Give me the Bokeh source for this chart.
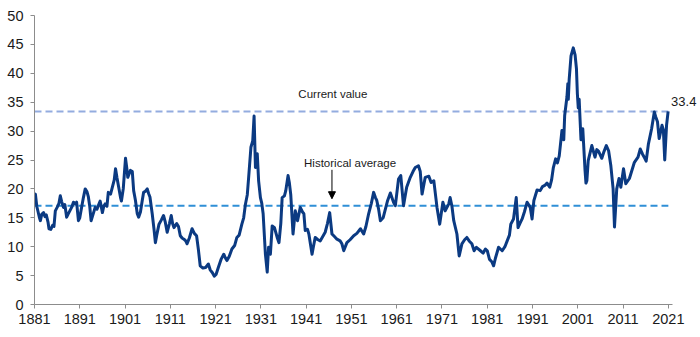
from bokeh.plotting import figure
from bokeh.models import Range1d, FixedTicker, Label, Arrow, NormalHead
from bokeh.embed import file_html
from bokeh.resources import INLINE

# ---- data ----
years = [
    1881.0, 1881.2, 1881.5, 1881.8, 1882.1, 1882.3, 1882.6, 1883.0, 1883.3, 1883.6,
    1884.0, 1884.2, 1884.6, 1885.0, 1885.3, 1885.6, 1886.0, 1886.4, 1886.7, 1887.0,
    1887.4, 1887.7, 1888.1, 1888.4, 1888.8, 1889.2, 1889.6, 1890.0, 1890.3, 1890.7,
    1891.0, 1891.4, 1891.8, 1892.2, 1892.6, 1892.9, 1893.2, 1893.5, 1893.9, 1894.4,
    1894.8, 1895.1, 1895.5, 1896.0, 1896.3, 1896.6, 1897.0, 1897.3, 1897.8, 1898.2,
    1898.6, 1898.9, 1899.2, 1899.6, 1900.0, 1900.2, 1900.6, 1901.1, 1901.4, 1901.6,
    1902.0, 1902.2, 1902.6, 1902.9, 1903.3, 1903.7, 1904.0, 1904.4, 1904.8, 1905.1,
    1905.5, 1905.9, 1906.2, 1906.5, 1907.0, 1907.4, 1907.7, 1908.0, 1908.5, 1909.0,
    1909.5, 1909.9, 1910.3, 1910.8, 1911.2, 1911.5, 1911.8, 1912.4, 1912.8, 1913.2,
    1913.6, 1914.0, 1914.4, 1914.7, 1915.2, 1915.8, 1916.3, 1916.8, 1917.2, 1917.6,
    1918.2, 1918.8, 1919.4, 1919.8, 1920.3, 1920.7, 1921.1, 1921.6, 1922.2, 1922.8,
    1923.2, 1923.5, 1924.0, 1924.6, 1925.2, 1925.7, 1926.2, 1926.8, 1927.2, 1927.6,
    1928.0, 1928.3, 1928.8, 1929.2, 1929.5, 1929.8, 1930.2, 1930.5, 1930.9, 1931.2,
    1931.5, 1932.0, 1932.4, 1932.7, 1933.1, 1933.5, 1934.0, 1934.6, 1935.0, 1935.4,
    1935.7, 1936.2, 1936.5, 1937.0, 1937.3, 1937.6, 1938.1, 1938.6, 1939.1, 1939.7,
    1940.2, 1940.5, 1940.8, 1941.3, 1941.6, 1942.3, 1942.6, 1943.0, 1943.6, 1944.1,
    1944.7, 1945.2, 1945.7, 1946.2, 1946.7, 1947.2, 1947.8, 1948.5, 1948.9, 1949.3,
    1950.0, 1950.7, 1951.5, 1952.2, 1953.0, 1953.7, 1954.2, 1954.8, 1955.4, 1955.9,
    1956.3, 1956.6, 1957.0, 1957.4, 1958.0, 1958.5, 1959.0, 1959.6, 1960.3, 1960.7,
    1961.4, 1961.9, 1962.5, 1963.2, 1964.0, 1964.6, 1965.1, 1965.8, 1966.2, 1966.6,
    1967.3, 1968.1, 1968.6, 1969.2, 1969.9, 1970.5, 1971.2, 1971.7, 1972.5, 1972.8,
    1973.2, 1973.6, 1974.3, 1974.8, 1975.4, 1976.0, 1976.5, 1977.0, 1977.6, 1978.1,
    1978.6, 1979.5, 1980.1, 1980.6, 1981.0, 1981.5, 1982.0, 1982.4, 1982.8, 1983.5,
    1984.3, 1984.9, 1985.4, 1985.9, 1986.2, 1986.8, 1987.4, 1987.8, 1988.2, 1988.7,
    1989.2, 1989.8, 1990.5, 1990.9, 1991.3, 1992.0, 1992.7, 1993.2, 1993.7, 1994.2,
    1994.8, 1995.2, 1995.6, 1996.1, 1996.5, 1996.9, 1997.5, 1997.9, 1998.1, 1998.6,
    1998.8, 1998.9, 1999.1, 1999.5, 2000.0, 2000.4, 2000.7, 2000.9, 2001.1, 2001.3,
    2001.7, 2002.1, 2002.6, 2002.8, 2003.0, 2003.3, 2004.1, 2004.8, 2005.2, 2005.6,
    2006.3, 2006.8, 2007.3, 2007.8, 2008.3, 2008.8, 2009.1, 2009.6, 2010.1, 2010.5,
    2011.1, 2011.6, 2012.4, 2013.5, 2014.3, 2014.8, 2015.3, 2015.8, 2016.1, 2016.6,
    2017.3, 2017.9, 2018.2, 2018.6, 2018.97, 2019.6, 2019.9, 2020.2, 2020.6, 2020.95,
]
cape = [
    18.5, 19.1, 17.0, 16.0, 15.0, 14.5, 15.6, 15.9, 15.2, 15.5,
    14.2, 13.1, 13.0, 13.7, 13.5, 16.2, 16.8, 17.5, 18.8, 17.8,
    16.8, 17.3, 15.1, 15.6, 16.2, 16.8, 17.7, 17.4, 17.7, 14.5,
    15.0, 16.8, 18.5, 20.0, 19.5, 18.6, 17.0, 14.5, 15.5, 16.8,
    16.5, 17.1, 17.9, 15.9, 17.0, 17.4, 17.0, 19.4, 19.1, 20.3,
    21.5, 23.5, 22.0, 20.3, 18.5, 17.9, 20.0, 25.3, 23.5, 22.0,
    22.8, 23.2, 23.0, 19.7, 18.0, 15.7, 15.1, 16.0, 18.0, 19.4,
    19.6, 20.0, 19.2, 18.6, 15.7, 13.0, 10.7, 12.0, 13.9, 14.6,
    15.4, 14.2, 12.5, 14.0, 15.4, 14.0, 13.3, 14.0, 13.5, 11.9,
    11.5, 11.3, 11.0, 10.5, 11.5, 13.1, 12.3, 11.9, 9.5, 6.7,
    6.3, 6.4, 7.0, 6.0, 5.5, 4.9, 5.2, 6.4, 7.8, 8.7,
    8.0, 7.6, 8.3, 9.6, 10.2, 11.6, 12.0, 13.9, 15.0, 17.4,
    19.0, 22.0, 27.2, 28.3, 32.6, 23.7, 26.1, 21.4, 18.5, 17.5,
    15.7, 8.7, 5.6, 9.9, 8.7, 13.6, 13.3, 11.6, 10.7, 14.0,
    18.5, 18.8, 19.7, 22.3, 21.0, 19.0, 12.2, 16.2, 14.5, 16.8,
    16.0, 15.7, 12.8, 13.0, 12.2, 8.7, 10.0, 11.6, 11.2, 11.0,
    11.8, 12.5, 14.0, 15.9, 12.2, 11.8, 11.3, 11.0, 10.5, 9.3,
    10.7, 11.2, 11.9, 12.3, 13.1, 12.2, 13.5, 15.7, 17.5, 19.4,
    18.5, 18.0, 16.5, 14.5, 15.0, 16.5, 18.0, 19.3, 17.7, 17.1,
    21.7, 22.3, 17.1, 20.3, 22.0, 23.0, 23.7, 24.0, 23.0, 19.1,
    22.0, 22.2, 21.1, 21.4, 16.8, 13.9, 17.7, 16.2, 17.4, 18.5,
    17.0, 14.5, 12.2, 8.4, 10.5, 11.2, 11.6, 11.0, 10.5, 9.3,
    9.9, 9.3, 8.9, 9.6, 9.3, 7.8, 7.4, 6.7, 8.0, 9.9,
    9.3, 10.0, 11.0, 12.0, 13.9, 14.8, 18.5, 13.3, 14.0, 14.8,
    16.0, 17.7, 16.8, 14.8, 18.0, 19.8, 19.7, 20.4, 20.6, 21.0,
    20.3, 21.5, 23.7, 25.2, 24.5, 25.7, 30.1, 28.5, 32.7, 35.9,
    38.2, 35.5, 39.0, 43.0, 44.4, 43.2, 40.8, 36.5, 34.0, 35.5,
    28.5, 30.4, 23.2, 21.0, 21.4, 24.9, 27.5, 25.5, 26.8, 26.5,
    25.3, 26.5, 27.5, 26.6, 24.0, 20.0, 13.4, 20.0, 21.8, 20.3,
    23.5, 20.9, 21.8, 24.6, 25.5, 26.9, 26.0, 25.3, 24.8, 27.8,
    30.4, 33.3, 32.5, 31.6, 28.7, 31.0, 30.2, 25.0, 31.0, 33.4,
]
current_value = 33.4
historical_average = 17.1
ref_span = [1881, 2021]
x_ticks = [1881, 1891, 1901, 1911, 1921, 1931, 1941, 1951, 1961, 1971, 1981, 1991, 2001, 2011, 2021]
y_ticks = [0, 5, 10, 15, 20, 25, 30, 35, 40, 45, 50]

FONT = "Liberation Sans"

p = figure(width=700, height=337, output_backend="svg", toolbar_location=None,
           x_range=Range1d(1881, 2028.1), y_range=Range1d(0, 50),
           min_border_left=34, min_border_right=0, min_border_top=15, min_border_bottom=33)
p.outline_line_color = None
p.grid.grid_line_color = None
p.background_fill_color = "white"
p.border_fill_color = "white"

for ax in (p.xaxis[0], p.yaxis[0]):
    ax.axis_line_color = "#8c8c8c"
    ax.major_tick_line_color = "#8c8c8c"
    ax.minor_tick_line_color = None
    ax.major_tick_in = 0
    ax.major_tick_out = 4
    ax.major_label_text_font = FONT
    ax.major_label_text_font_size = "14.5px"
    ax.major_label_text_color = "#1a1a1a"

p.xaxis.ticker = FixedTicker(ticks=x_ticks)
p.xaxis.bounds = (1881, 2021.9)
p.yaxis.ticker = FixedTicker(ticks=y_ticks)
p.xaxis.major_label_standoff = 5
p.yaxis.major_label_standoff = 7

# reference lines
p.line(ref_span, [current_value, current_value], line_color="#93acdf",
       line_width=2, line_dash="7 4")
p.line(ref_span, [historical_average, historical_average], line_color="#2f8fd6",
       line_width=2, line_dash="7 4")

# series
p.line(years, cape, line_color="#0b3a82", line_width=3, line_join="round")

p.add_layout(Label(x=1946.9, y=36.4, text="Current value", text_align="center",
                   text_baseline="middle", text_font=FONT, text_font_size="11.5px",
                   text_color="#1a1a1a"))
p.add_layout(Label(x=1950.7, y=24.5, text="Historical average", text_align="center",
                   text_baseline="middle", text_font=FONT, text_font_size="11.5px",
                   text_color="#1a1a1a"))
p.add_layout(Label(x=2021.6, y=35.2, text="33.4", text_align="left",
                   text_baseline="middle", text_font=FONT, text_font_size="13px",
                   text_color="#1a1a1a"))
p.add_layout(Arrow(end=NormalHead(size=7, fill_color="black", line_color="black"),
                   x_start=1946.7, y_start=23.3, x_end=1946.7, y_end=18.3,
                   line_color="black", line_width=1))

open("out.html", "w").write(file_html(p, INLINE))
